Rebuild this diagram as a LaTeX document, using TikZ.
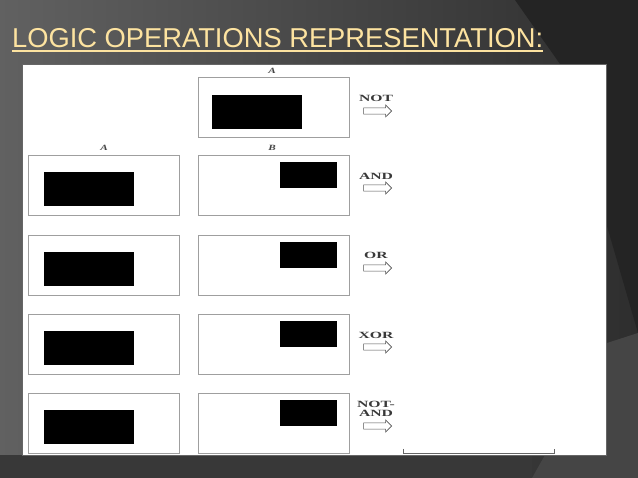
\documentclass[tikz,border=0pt]{standalone}
\usepackage{fontspec}
\setmainfont{Liberation Serif}
\newfontfamily\titlefont{Liberation Sans}
\usetikzlibrary{shapes.arrows}

\tikzset{
  frame/.style={draw=gray!75, line width=0.9pt, minimum width=151pt, minimum height=60pt, inner sep=0pt},
  blobwide/.style={fill=black, minimum width=90pt, minimum height=34pt, inner sep=0pt},
  blobsmall/.style={fill=black, minimum width=57pt, minimum height=26pt, inner sep=0pt},
  varlabel/.style={font=\fontsize{8}{8}\selectfont\bfseries\itshape, text=gray!55!black, inner sep=0pt, xscale=1.4},
  oplabel/.style={font=\fontsize{9.5}{9}\selectfont\bfseries, align=center, text=gray!45!black, inner sep=0pt, xscale=1.65},
  hollowarrow/.style={single arrow, draw=gray!65!black, fill=white, line width=0.6pt,
    minimum height=28pt, minimum width=12pt, single arrow head extend=2.8pt, inner sep=2.8pt}
}

\begin{document}
\begin{tikzpicture}[x=1pt,y=-1pt]
\useasboundingbox (0,0) rectangle (638,478);
% background
\shade[left color=black!62, right color=black!82] (0,0) rectangle (638,478);
\fill[black!86] (515,0) -- (638,0) -- (638,333) -- (560,64) -- cycle;
\fill[black!73] (638,333) -- (607,343) -- (545,455) -- (532,478) -- (638,478) -- cycle;
\fill[black!78] (0,455) rectangle (532,478);
% title
\node[anchor=base west, inner sep=0pt, text=yellow!45!orange!35!white,
  font=\titlefont\fontsize{27.3}{28}\selectfont] (title) at (12,48) {LOGIC OPERATIONS REPRESENTATION:};
\draw[yellow!45!orange!35!white, line width=1.4pt]
  ([yshift=-3pt]title.base west) -- ([yshift=-3pt]title.base east);
% white panel
\node[fill=white, draw=black!60, line width=0.4pt, minimum width=584pt, minimum height=391pt,
  inner sep=0pt, anchor=north west] (panel) at (22,64) {};

% NOT row
\node[frame, anchor=north west] (notA) at (198,77) {};
\node[blobwide, anchor=north west] (notAblob) at (212,95) {};
\node[varlabel] (notAlbl) at (272,71) {A};
\node[oplabel] (notop) at (376,98) {NOT};
\node[hollowarrow] (notarrow) at (376,111) {};

% binary rows
\foreach \name/\y in {and/155, or/235, xor/314, nand/393} {
  \node[frame, anchor=north west] (\name A) at (28,\y) {};
  \node[frame, anchor=north west] (\name B) at (198,\y) {};
  \node[blobwide, anchor=north west] (\name Ablob) at (44,\y+17) {};
  \node[blobsmall, anchor=north west] (\name Bblob) at (280,\y+7) {};
  \node[hollowarrow] (\name arrow) at (376,\y+33) {};
}
\node[oplabel] (andop) at (376,176) {AND};
\node[oplabel] (orop) at (376,255) {OR};
\node[oplabel] (xorop) at (376,335) {XOR};
\node[oplabel] (nandop) at (376,409) {NOT-\\AND};
\node[varlabel] (andAlbl) at (104,148) {A};
\node[varlabel] (andBlbl) at (272,148) {B};

% bracket
\draw[gray!80!black, line width=0.9pt] (403,449) -- (403,453) -- (554,453) -- (554,449);
\end{tikzpicture}
\end{document}
